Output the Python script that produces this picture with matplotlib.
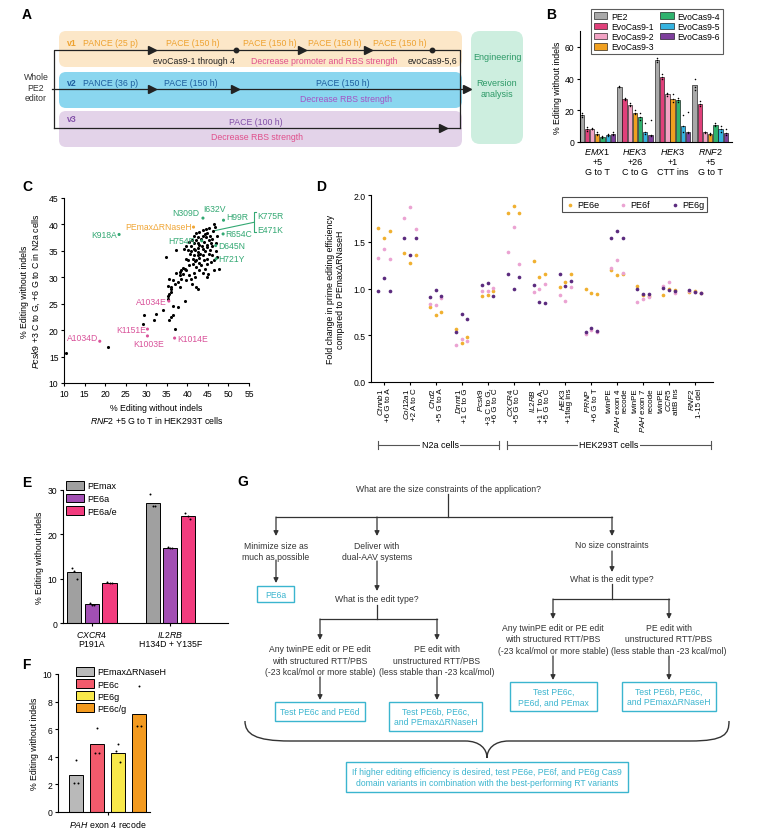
import numpy as np
import matplotlib
matplotlib.use("Agg")
import matplotlib.pyplot as plt
from matplotlib.patches import FancyBboxPatch, Rectangle, Patch, PathPatch
from matplotlib.path import Path

plt.rcParams['font.family'] = ['Liberation Sans', 'DejaVu Sans']
plt.rcParams['mathtext.fontset'] = 'custom'
plt.rcParams['mathtext.rm'] = 'Liberation Sans'
plt.rcParams['mathtext.it'] = 'Liberation Sans:italic'
plt.rcParams['font.size'] = 6
plt.rcParams['axes.linewidth'] = 0.8
plt.rcParams['xtick.major.size'] = 2.5
plt.rcParams['ytick.major.size'] = 2.5
plt.rcParams['xtick.major.width'] = 0.8
plt.rcParams['ytick.major.width'] = 0.8
plt.rcParams['xtick.major.pad'] = 1.5
plt.rcParams['ytick.major.pad'] = 1.5

# ---- data ----
# B: editing by evolved Cas9 variants
b_targets = ["EMX1", "HEK3", "HEK3", "RNF2"]
b_sub = ["+5\nG to T", "+26\nC to G", "+1\nCTT ins", "+5\nG to T"]
b_variants = ["PE2", "EvoCas9-1", "EvoCas9-2", "EvoCas9-3", "EvoCas9-4", "EvoCas9-5", "EvoCas9-6"]
b_colors = ["#a9a9a9", "#e0407a", "#f2a3c4", "#f0a020", "#2fb36e", "#35b3e0", "#7e3f9c"]
b_means = [
    [17, 35, 51.5, 36],
    [8, 27, 41, 24],
    [8.5, 23.5, 30, 6],
    [5, 18.5, 27, 5],
    [3, 16, 26.5, 11],
    [4.5, 6.5, 10, 8],
    [5, 4.5, 6, 5.5],
]
b_reps = [
    [[18.5, 17, 15.5], [35.5, 35, 34.5], [53, 51.5, 50.5], [40, 35, 33]],
    [[9.5, 8, 7], [27.5, 27, 26.5], [43, 41, 40], [26, 24, 23]],
    [[9, 8.5, 8], [24.5, 23.5, 22.5], [31, 30, 29], [6.5, 6, 5.5]],
    [[6, 5, 4.5], [20, 18.5, 17.5], [30, 27, 25], [5.5, 5, 4.5]],
    [[3.5, 3, 2.5], [18, 16, 14], [28, 26.5, 25], [12, 11, 10]],
    [[5, 4.5, 4], [12, 6.5, 5], [17, 10, 6], [10, 8, 6]],
    [[6, 5, 4.5], [14, 4.5, 4], [19, 6, 5.5], [8, 5.5, 4.5]],
]

# C: scatter of variants
c_x = [10.6, 20.7, 29.2, 29.4, 31.8, 32.4, 34.2, 35.6, 36.0, 36.5, 36.6, 37.7, 36.9, 39.5,
       35.2, 35.6, 36.0, 36.1, 35.2, 35.4, 35.6, 36.6, 37.3, 37.7, 38.1, 38.1, 38.5, 38.5,
       39.0, 39.4, 39.7, 40.3, 40.9, 41.1, 42.1, 42.6, 41.5, 41.9, 42.9, 43.9, 44.2, 44.7,
       45.0, 46.5, 47.7, 42.1, 41.3, 40.5, 42.9, 43.3, 44.9, 45.7, 34.7, 37.3, 40.1, 40.6,
       41.0, 41.5, 41.9, 42.5, 42.7, 43.1, 43.7, 43.9, 44.4, 44.7, 45.2, 45.5, 46.0, 46.1,
       46.5, 46.9, 47.3, 41.3, 42.1, 42.9, 44.1, 44.9, 40.9, 41.7, 42.1, 42.5, 42.7, 43.3,
       43.7, 44.1, 44.5, 44.9, 45.2, 45.5, 45.7, 46.1, 46.3, 46.7, 46.5, 44.5, 45.3, 43.8,
       42.9, 41.7, 42.1, 41.1, 40.3, 39.7, 39.3, 42.9, 43.5, 41.5, 47.3, 46.9, 44.3, 44.8,
       42.5, 41.8, 40.1, 39.7, 39.0, 39.7, 38.1, 36.9, 36.1]
c_y = [15.7, 16.9, 21.1, 22.8, 22.0, 23.0, 23.8, 22.0, 22.5, 22.8, 24.5, 24.4, 20.2, 25.5,
       26.4, 26.9, 27.2, 27.8, 25.8, 28.4, 29.7, 29.5, 30.8, 29.1, 28.2, 30.4, 31.3, 29.7,
       31.8, 31.6, 31.4, 30.5, 29.6, 28.8, 28.2, 27.7, 30.8, 30.1, 31.3, 30.8, 31.6, 30.1,
       30.7, 31.4, 31.6, 31.9, 32.6, 32.3, 32.7, 32.3, 32.6, 32.9, 33.8, 35.1, 35.1, 34.5,
       35.0, 34.2, 35.2, 34.8, 35.6, 34.5, 35.4, 34.2, 35.0, 35.7, 34.5, 35.2, 34.2, 35.9,
       33.3, 35.0, 33.8, 33.5, 33.3, 33.7, 33.3, 33.5, 36.0, 36.4, 37.0, 37.6, 36.5, 37.3,
       37.9, 36.7, 37.6, 38.4, 37.0, 37.9, 36.4, 37.3, 38.8, 39.5, 40.1, 39.2, 39.3, 38.9,
       38.6, 37.8, 38.4, 37.1, 36.7, 36.0, 35.4, 36.2, 35.9, 35.4, 37.9, 36.4, 38.1, 36.1,
       34.2, 33.1, 33.2, 33.5, 30.6, 29.5, 31.0, 28.7, 28.2]
c_mut_names = ["K918A", "PEmax\u0394RNaseH", "N309D", "H99R", "R654C", "H754R", "D645N", "H721Y",
               "A1034E", "K1151E", "K1003E", "K1014E", "A1034D"]
c_mut_x = [23.4, 41.5, 43.8, 48.8, 48.7, 43.5, 46.9, 47.0, 35.5, 30.3, 30.3, 36.9, 18.7]
c_mut_y = [38.1, 39.5, 41.2, 40.8, 38.2, 36.9, 36.0, 33.5, 25.5, 20.2, 18.9, 18.5, 17.9]
c_mut_group = ["g", "o", "g", "g", "g", "g", "g", "g", "p", "p", "p", "p", "p"]

# D: fold change per site
d_sites = [r"$\it{Ctnnb1}$" + "\n+6 G to A", r"$\it{Col12a1}$" + "\n+2 A to C",
           r"$\it{Chd2}$" + "\n+5 G to A", r"$\it{Dnmt1}$" + "\n+1 C to G",
           r"$\it{Pcsk9}$" + "\n+3 C to G,\n+6 G to C", r"$\it{CXCR4}$" + "\n+5 G to C",
           r"$\it{IL2RB}$" + "\n+1 T to A,\n+5 G to C", r"$\it{HEK3}$" + "\n+1flag ins",
           r"$\it{PRNP}$" + "\n+6 G to T", "twinPE\n" + r"$\it{PAH}$" + " exon 4\nrecode",
           "twinPE\n" + r"$\it{PAH}$" + " exon 7\nrecode", "twinPE\n" + r"$\it{CCR5}$" + "\nattB ins",
           r"$\it{RNF2}$" + "\n1-15 del"]
d_pe6e = [[1.65, 1.62, 1.54], [1.38, 1.36, 1.27], [0.80, 0.75, 0.72], [0.57, 0.48, 0.42],
          [0.92, 0.97, 0.93], [1.81, 1.81, 1.88], [1.29, 1.16, 1.12], [1.02, 1.16, 1.07],
          [1.00, 0.94, 0.95], [1.20, 1.15, 1.14], [1.03, 0.92, 0.93], [0.93, 0.98, 0.99],
          [0.96, 0.95, 0.97]]
d_pe6f = [[1.33, 1.32, 1.42], [1.75, 1.64, 1.87], [0.83, 0.90, 0.82], [0.40, 0.44, 0.46],
          [0.97, 1.01, 0.97], [1.39, 1.26, 1.66], [0.96, 1.05, 1.00], [0.93, 1.02, 0.87],
          [0.51, 0.53, 0.56], [1.22, 1.17, 1.31], [0.86, 0.91, 0.89], [1.03, 0.95, 1.07],
          [0.97, 0.95, 0.96]]
d_pe6g = [[0.97, 0.97, 1.11], [1.54, 1.54, 1.36], [0.91, 0.92, 0.98], [0.54, 0.67, 0.73],
          [1.04, 0.92, 1.06], [1.16, 1.12, 0.99], [1.04, 0.84, 0.86], [1.15, 1.08, 1.03],
          [0.54, 0.55, 0.58], [1.54, 1.54, 1.61], [1.00, 0.94, 0.94], [1.01, 0.97, 0.98],
          [0.98, 0.95, 0.96]]

# E
e_targets = [r"$\it{CXCR4}$" + "\nP191A", r"$\it{IL2RB}$" + "\nH134D + Y135F"]
e_variants = ["PEmax", "PE6a", "PE6a/e"]
e_colors = ["#a0a0a0", "#a24fb3", "#f23c7e"]
e_means = [[11.5, 27.0], [4.2, 17.0], [9.1, 24.2]]
e_reps = [[[12.5, 11.8, 10.0], [29.0, 26.5, 26.3]],
          [[4.5, 4.0, 4.1], [17.2, 16.9, 17.0]],
          [[9.2, 9.1, 9.1], [24.8, 24.2, 23.5]]]

# F
f_variants = ["PEmax\u0394RNaseH", "PE6c", "PE6g", "PE6c/g"]
f_colors = ["#b9b9b9", "#f35a6c", "#f8e84a", "#f39a1f"]
f_values = [2.65, 4.9, 4.3, 7.1]
f_reps = [[3.8, 2.1, 2.1], [6.1, 4.3, 4.3], [4.95, 4.4, 3.6], [9.1, 6.2, 6.2]]

# ---- figure ----
W, H = 763, 837
fig = plt.figure(figsize=(W / 100, H / 100), dpi=100)


def box(x0, y0, x1, y1):
    return fig.add_axes([x0 / W, 1 - y1 / H, (x1 - x0) / W, (y1 - y0) / H])


def clean(ax):
    ax.spines['top'].set_visible(False)
    ax.spines['right'].set_visible(False)
    ax.tick_params(labelsize=6.2)


cv = box(0, 0, W, H)
cv.set_xlim(0, W)
cv.set_ylim(H, 0)
cv.axis('off')

for lab, x, y in [("A", 22, 15), ("B", 546, 15), ("C", 22, 187), ("D", 316, 187),
                  ("E", 22, 483), ("F", 22, 665), ("G", 237, 482)]:
    cv.text(x, y, lab, fontsize=10, fontweight='bold', ha='left', va='center')

# ---- A: evolution scheme ----
for y0, c in [(32, "#fce7c8"), (73, "#8ad6ef"), (112, "#e3d3e9")]:
    cv.add_patch(FancyBboxPatch((59, y0), 403, 36, boxstyle="round,pad=0,rounding_size=7",
                                fc=c, ec='none'))
cv.add_patch(FancyBboxPatch((471, 32), 52, 113, boxstyle="round,pad=0,rounding_size=9",
                            fc="#cdeedf", ec='none'))
cv.text(497, 57, "Engineering", ha='center', va='center', fontsize=6.5, color="#2e9a68")
cv.text(497, 89, "Reversion\nanalysis", ha='center', va='center', fontsize=6.5, color="#2e9a68")
k = "#222222"
cv.plot([54, 54, 460, 460], [129, 51, 51, 129], color=k, lw=0.9)
cv.plot([54, 460], [129, 129], color=k, lw=0.9)
cv.plot([52, 466], [90, 90], color=k, lw=0.9)
cv.plot([152, 302, 368], [51, 51, 51], ls='none', marker='>', ms=5.5, color=k)
cv.plot([152, 235, 467], [90, 90, 90], ls='none', marker='>', ms=5.5, color=k)
cv.plot([443], [129], ls='none', marker='>', ms=5.5, color=k)
cv.plot([236, 432], [51, 51], ls='none', marker='o', ms=3.2, color=k)
cv.text(36, 88, "Whole\nPE2\neditor", ha='center', va='center', fontsize=6.3, color='#333333',
        linespacing=1.15)
orng, blu, prp, pnk = "#eea230", "#1d5e9e", "#8250a8", "#e0508c"
cv.text(67, 43, "v1", fontsize=6.3, fontweight='bold', color=orng, va='center')
cv.text(83, 43, "PANCE (25 p)", fontsize=6.3, color=orng, va='center')
for x in [193, 270, 335, 400]:
    cv.text(x, 43, "PACE (150 h)", fontsize=6.3, color=orng, va='center', ha='center')
cv.text(194, 61, "evoCas9-1 through 4", fontsize=6.3, color=k, va='center', ha='center')
cv.text(324, 61, "Decrease promoter and RBS strength", fontsize=6.3, color=pnk, va='center', ha='center')
cv.text(432, 61, "evoCas9-5,6", fontsize=6.3, color=k, va='center', ha='center')
cv.text(67, 83, "v2", fontsize=6.3, fontweight='bold', color=blu, va='center')
cv.text(83, 83, "PANCE (36 p)", fontsize=6.3, color=blu, va='center')
cv.text(191, 83, "PACE (150 h)", fontsize=6.3, color=blu, va='center', ha='center')
cv.text(343, 83, "PACE (150 h)", fontsize=6.3, color=blu, va='center', ha='center')
cv.text(346, 99, "Decrease RBS strength", fontsize=6.3, color="#a554c4", va='center', ha='center')
cv.text(67, 119, "v3", fontsize=6.3, fontweight='bold', color=prp, va='center')
cv.text(256, 122, "PACE (100 h)", fontsize=6.3, color=prp, va='center', ha='center')
cv.text(257, 137, "Decrease RBS strength", fontsize=6.3, color=pnk, va='center', ha='center')

# ---- B ----
axb = box(580, 32, 732, 143)
clean(axb)
xg = np.arange(len(b_targets))
for i, (name, col) in enumerate(zip(b_variants, b_colors)):
    xs = xg + (i - 3) * 0.138
    axb.bar(xs, b_means[i], width=0.115, color=col, edgecolor='black', lw=0.4, label=name)
    for j in range(len(b_targets)):
        axb.scatter([xs[j]] * 3, b_reps[i][j], s=1.2, color='black', zorder=3, lw=0)
axb.set_ylim(0, 70)
axb.set_yticks([0, 20, 40, 60])
axb.set_xlim(-0.46, 3.58)
axb.set_xticks(xg)
axb.set_xticklabels([r"$\it{" + t + "}$\n" + s for t, s in zip(b_targets, b_sub)],
                    fontsize=6.5, linespacing=1.1)
axb.tick_params(axis='x', length=0, pad=3)
axb.set_ylabel("% Editing without indels", fontsize=6.3, labelpad=2)
axb.legend(loc='upper left', bbox_to_anchor=(591 / W, 1 - 10 / H), bbox_transform=fig.transFigure,
           ncol=2, fontsize=6.2, frameon=True, fancybox=False, edgecolor='#333333',
           handlelength=1.6, handleheight=0.8, labelspacing=0.15, columnspacing=0.8,
           handletextpad=0.4, borderpad=0.3, borderaxespad=0).get_frame().set_linewidth(0.8)

# ---- C ----
axc = box(64, 199, 249, 384)
clean(axc)
axc.scatter(c_x, c_y, s=5, color='black', lw=0, zorder=3)
grp_col = {"g": "#33a873", "o": "#f0a636", "p": "#d9529a"}
axc.scatter(c_mut_x, c_mut_y, s=5, c=[grp_col[g] for g in c_mut_group], lw=0, zorder=4)
# label placements: (text x, text y, ha)
c_place = [(22.8, 38.1, 'right'), (41.0, 39.6, 'right'), (42.8, 42.2, 'right'), (49.4, 41.5, 'left'),
           (49.3, 38.2, 'left'), (41.9, 37.0, 'right'), (47.4, 36.0, 'left'), (47.6, 33.6, 'left'),
           (35.1, 25.5, 'right'), (29.9, 20.2, 'right'), (30.7, 17.4, 'center'), (37.5, 18.5, 'left'),
           (18.3, 18.7, 'right')]
for name, g, (tx, ty, ha) in zip(c_mut_names, c_mut_group, c_place):
    axc.text(tx, ty, name, ha=ha, va='center', fontsize=6.2, color=grp_col[g], clip_on=False)
axc.text(43.9, 43.0, "I632V", ha='left', va='center', fontsize=6.2, color=grp_col["g"])
axc.plot([56.6, 56.2, 56.2, 56.6], [42.3, 42.3, 38.5, 38.5], color=grp_col["g"], lw=0.8, clip_on=False)
axc.plot([56.2, 46.5], [40.4, 38.8], color=grp_col["g"], lw=0.8, clip_on=False)
axc.text(57.0, 41.7, "K775R", ha='left', va='center', fontsize=6.2, color=grp_col["g"], clip_on=False)
axc.text(57.0, 39.1, "E471K", ha='left', va='center', fontsize=6.2, color=grp_col["g"], clip_on=False)
axc.set_xlim(10, 55)
axc.set_ylim(10, 45)
axc.set_xticks(np.arange(10, 56, 5))
axc.set_yticks(np.arange(10, 46, 5))
axc.set_xlabel("% Editing without indels\n" + r"$\it{RNF2}$" + " +5 G to T in HEK293T cells",
               fontsize=6.3, labelpad=4)
axc.set_ylabel("% Editing without indels\n" + r"$\it{Pcsk9}$" + " +3 C to G, +6 G to C in N2a cells",
               fontsize=6.3, labelpad=5)

# ---- D ----
axd = box(371, 196, 713, 383)
clean(axd)
jit = np.array([-0.22, 0.22, 0.0])
d_sets = [("PE6e", "#f0b030", d_pe6e), ("PE6f", "#eba3d2", d_pe6f), ("PE6g", "#5b2b7e", d_pe6g)]
for name, col, vals in d_sets:
    xs, ys = [], []
    for i, v in enumerate(vals):
        xs += list(i + jit)
        ys += v
    axd.scatter(xs, ys, s=7, color=col, lw=0, label=name, zorder=3)
axd.set_xlim(-0.5, 12.7)
axd.set_ylim(0, 2.0)
axd.set_yticks([0, 0.5, 1.0, 1.5, 2.0])
axd.set_yticklabels(["0.0", "0.5", "1.0", "1.5", "2.0"])
axd.set_xticks(range(len(d_sites)))
axd.set_xticklabels(d_sites, rotation=90, fontsize=5.8, linespacing=0.92, multialignment='right')
axd.set_ylabel("Fold change in prime editing efficiency\ncompared to PEmax\u0394RNaseH", fontsize=6.3,
               labelpad=6)
lg = axd.legend(loc='upper left', bbox_to_anchor=(562 / W, 1 - 198 / H), bbox_transform=fig.transFigure,
                ncol=3, fontsize=6.5, frameon=True, fancybox=False, edgecolor='#222222', markerscale=1.0,
                handletextpad=0.3, columnspacing=2.2, borderpad=0.35, borderaxespad=0, handlelength=1.0)
lg.get_frame().set_linewidth(0.8)
for x0, x1, lab, xt in [(378, 499, "N2a cells", 440), (507, 711, "HEK293T cells", 609)]:
    cv.plot([x0, x1], [446, 446], color='#555555', lw=0.8)
    cv.plot([x0, x0], [442, 450], color='#555555', lw=0.8)
    cv.plot([x1, x1], [442, 450], color='#555555', lw=0.8)
    cv.text(xt, 446, lab, ha='center', va='center', fontsize=6.5,
            bbox=dict(fc='white', ec='none', pad=1.0))

# ---- E ----
axe = box(63, 491, 228, 624)
clean(axe)
xe = np.arange(len(e_targets))
for i, (name, col) in enumerate(zip(e_variants, e_colors)):
    xs = xe + (i - 1) * 0.225
    axe.bar(xs, e_means[i], width=0.18, color=col, edgecolor='black', lw=0.7, label=name)
    for j in range(len(e_targets)):
        axe.scatter(xs[j] + np.array([-0.03, 0.0, 0.03]), e_reps[i][j], s=2, color='black', lw=0, zorder=3)
axe.set_xlim(-0.37, 1.74)
axe.set_ylim(0, 30)
axe.set_yticks([0, 10, 20, 30])
axe.set_xticks(xe)
axe.set_xticklabels(e_targets, fontsize=6.3, linespacing=1.1)
axe.set_ylabel("% Editing without indels", fontsize=6.3, labelpad=3)
axe.legend(loc='upper left', bbox_to_anchor=(66 / W, 1 - 482 / H), bbox_transform=fig.transFigure,
           frameon=False, fontsize=6.5, handlelength=2.0, handleheight=1.1, labelspacing=0.35,
           handletextpad=0.4, borderpad=0, borderaxespad=0)

# ---- F ----
axf = box(58, 675, 150, 813)
clean(axf)
xf = np.arange(len(f_values))
axf.bar(xf, f_values, width=0.68, color=f_colors, edgecolor='black', lw=0.7)
for i in range(len(f_values)):
    axf.scatter(xf[i] + np.array([0.0, -0.08, 0.08]), f_reps[i], s=2, color='black', lw=0, zorder=3)
axf.set_xlim(-0.86, 3.52)
axf.set_ylim(0, 10)
axf.set_yticks([0, 2, 4, 6, 8, 10])
axf.set_xticks([1.5])
axf.set_xticklabels([r"$\it{PAH}$" + " exon 4 recode"], fontsize=6.3)
axf.set_ylabel("% Editing without indels", fontsize=6.3, labelpad=3)
axf.legend([Patch(fc=c, ec='black', lw=0.7) for c in f_colors], f_variants,
           loc='upper left', bbox_to_anchor=(76 / W, 1 - 668 / H), bbox_transform=fig.transFigure,
           frameon=False, fontsize=6.5, handlelength=2.0, handleheight=1.1, labelspacing=0.3,
           handletextpad=0.4, borderpad=0, borderaxespad=0)

# ---- G: decision tree ----
gt = "#333333"
cy = "#3bb5cf"
fs = 6.2


def arrow(x, y0, y1):
    cv.annotate("", xy=(x, y1), xytext=(x, y0),
                arrowprops=dict(arrowstyle='-|>', color=gt, lw=0.9, mutation_scale=7, shrinkA=0, shrinkB=0))


def line(xs, ys):
    cv.plot(xs, ys, color=gt, lw=0.9)


def cbox(x0, y0, x1, y1, txt):
    cv.add_patch(Rectangle((x0, y0), x1 - x0, y1 - y0, fc='white', ec=cy, lw=1.0))
    cv.text((x0 + x1) / 2, (y0 + y1) / 2, txt, ha='center', va='center', fontsize=fs, color=cy,
            linespacing=1.25)


def gtext(x, y, txt):
    cv.text(x, y, txt, ha='center', va='center', fontsize=fs, color=gt, linespacing=1.3)


gtext(448, 489, "What are the size constraints of the application?")
line([448, 448], [495, 518])
line([276, 612], [518, 518])
for x in [276, 377, 612]:
    arrow(x, 518, 537)
gtext(276, 552, "Minimize size as\nmuch as possible")
gtext(377, 552, "Deliver with\ndual-AAV systems")
gtext(612, 545, "No size constraints")
arrow(276, 561, 584)
cbox(257, 587, 294, 603, "PE6a")
arrow(377, 562, 592)
gtext(377, 600, "What is the edit type?")
line([377, 377], [606, 620])
line([320, 437], [620, 620])
arrow(320, 620, 641)
arrow(437, 620, 641)
gtext(320, 661, "Any twinPE edit or PE edit\nwith structured RTT/PBS\n(-23 kcal/mol or more stable)")
gtext(437, 661, "PE edit with\nunstructured RTT/PBS\n(less stable than -23 kcal/mol)")
arrow(320, 678, 701)
arrow(437, 678, 701)
cbox(275, 703, 365, 722, "Test PE6c and PE6d")
cbox(389, 703, 482, 732, "Test PE6b, PE6c,\nand PEmax\u0394RNaseH")
arrow(612, 552, 573)
gtext(612, 579, "What is the edit type?")
line([612, 612], [585, 600])
line([553, 669], [600, 600])
arrow(553, 600, 620)
arrow(669, 600, 620)
gtext(553, 640, "Any twinPE edit or PE edit\nwith structured RTT/PBS\n(-23 kcal/mol or more stable)")
gtext(669, 640, "PE edit with\nunstructured RTT/PBS\n(less stable than -23 kcal/mol)")
arrow(553, 657, 681)
arrow(669, 657, 681)
cbox(510, 683, 597, 712, "Test PE6c,\nPE6d, and PEmax")
cbox(622, 683, 716, 712, "Test PE6b, PE6c,\nand PEmax\u0394RNaseH")
verts = [(245, 722), (245, 735), (255, 742), (290, 742), (465, 742), (480, 742), (487, 750), (487, 759),
         (487, 750), (494, 742), (509, 742), (690, 742), (725, 742), (729, 735), (729, 722)]
codes = [Path.MOVETO, Path.CURVE4, Path.CURVE4, Path.CURVE4, Path.LINETO, Path.CURVE4, Path.CURVE4,
         Path.CURVE4, Path.CURVE4, Path.CURVE4, Path.CURVE4, Path.LINETO, Path.CURVE4, Path.CURVE4,
         Path.CURVE4]
cv.add_patch(PathPatch(Path(verts, codes), fc='none', ec=gt, lw=1.0))
cbox(346, 763, 628, 793, "If higher editing efficiency is desired, test PE6e, PE6f, and PE6g Cas9\n"
                         "domain variants in combination with the best-performing RT variants")

fig.savefig("out.png", dpi=100)
